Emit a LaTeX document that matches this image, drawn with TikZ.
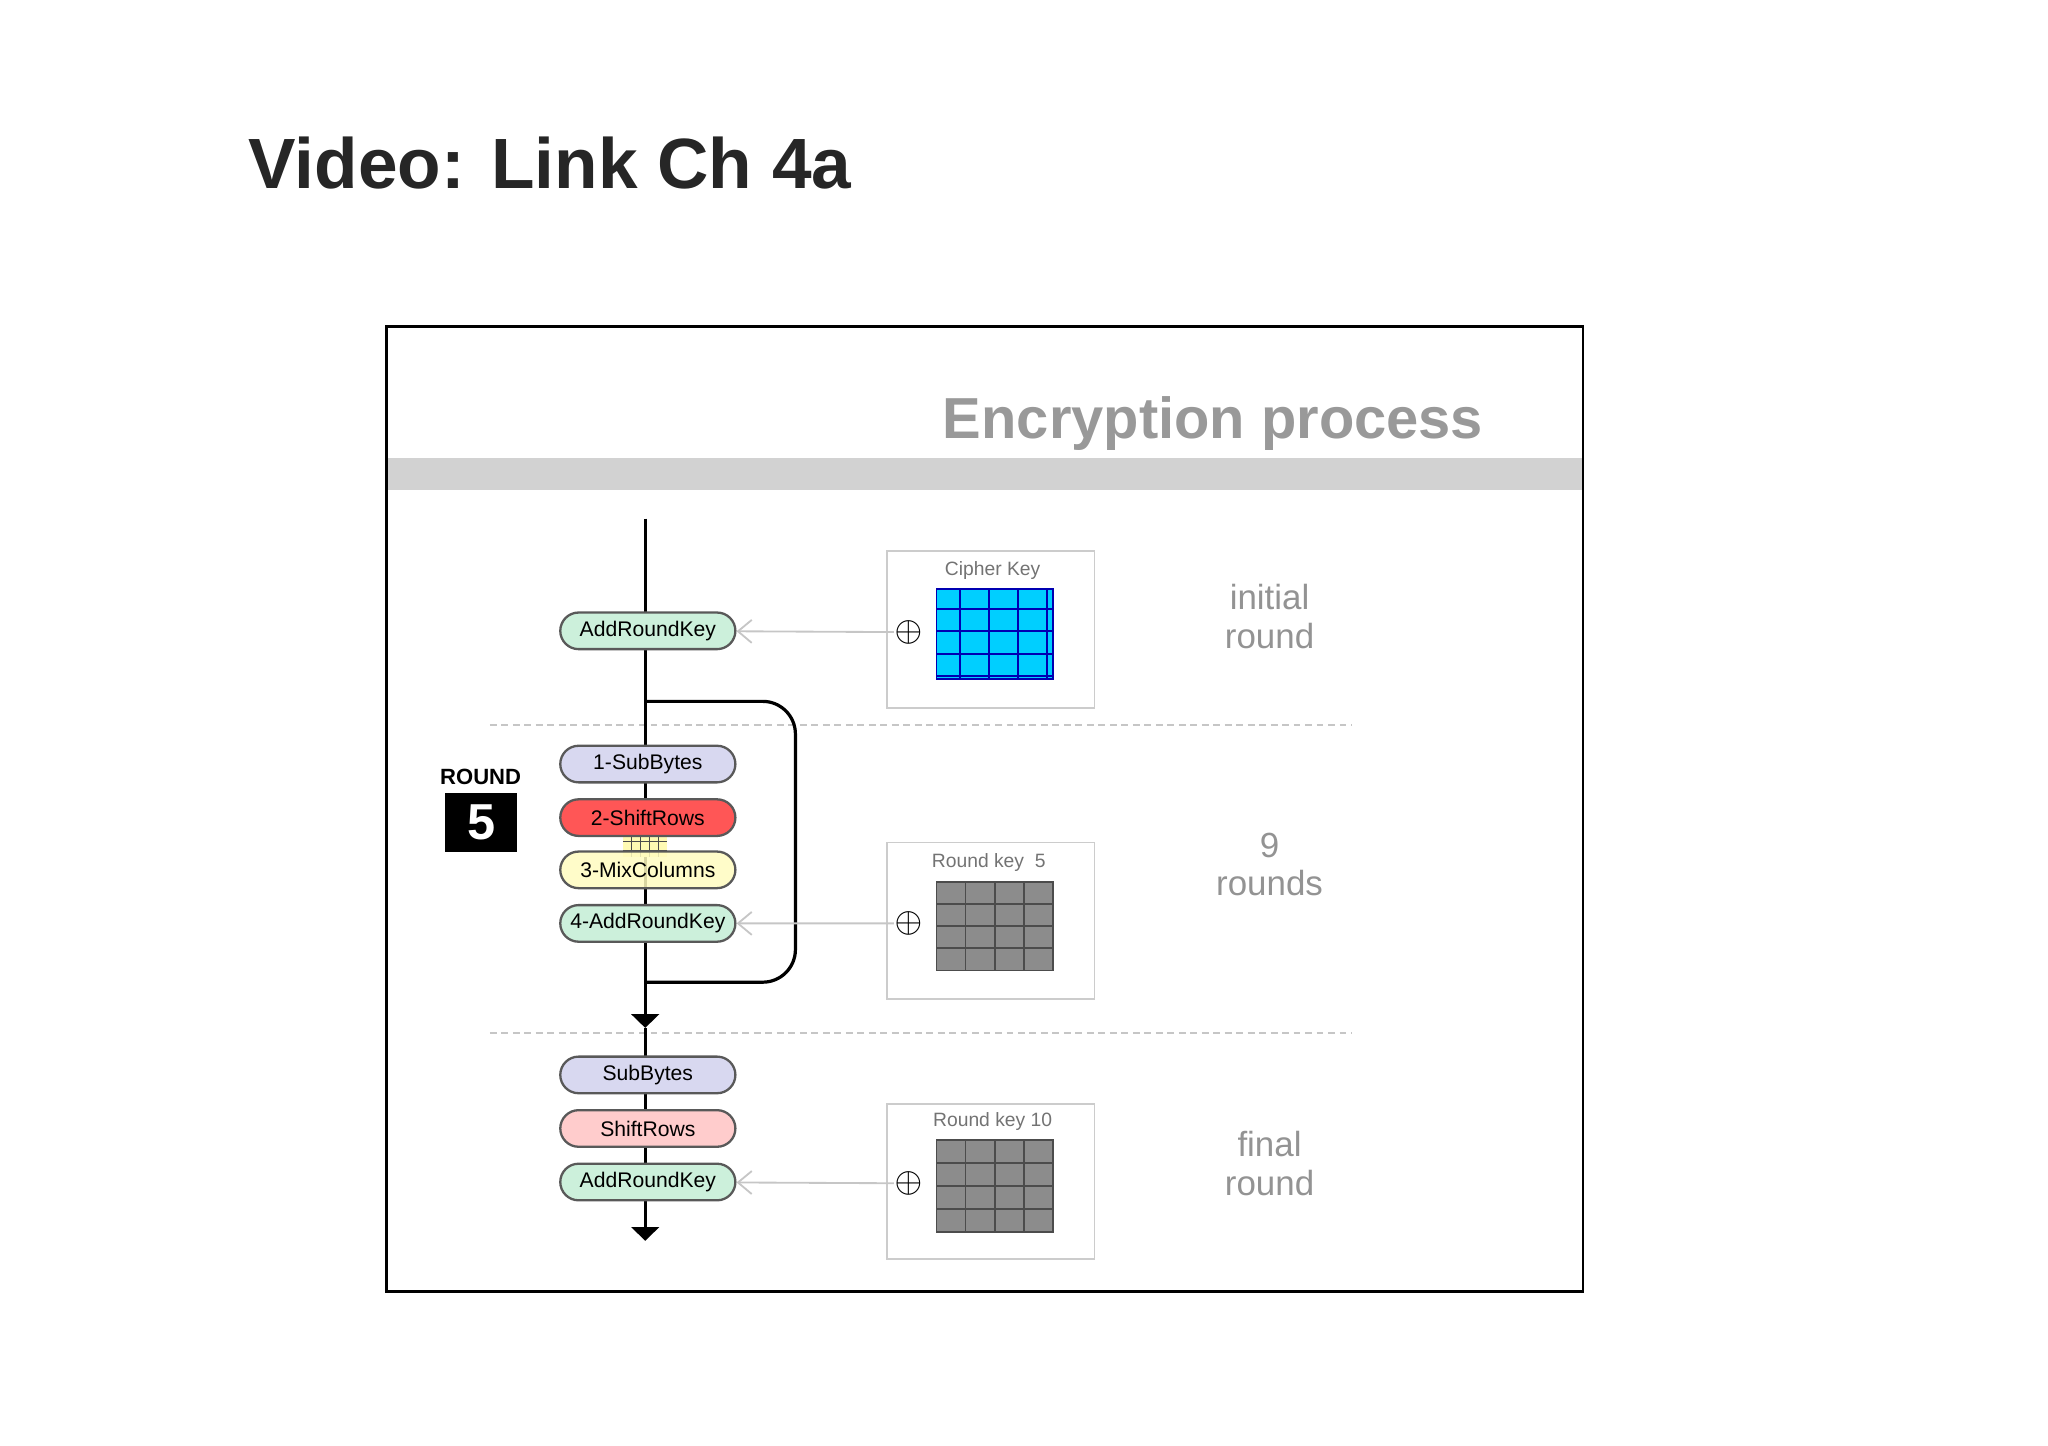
\documentclass[tikz,border=0pt]{standalone}
\usepackage{fontspec}
\setmainfont{Liberation Sans}
\usetikzlibrary{arrows.meta,shapes.misc}
\begin{document}
\begin{tikzpicture}[x=0.01cm,y=-0.01cm,
  pill/.style={rounded rectangle,draw=gray!70!black,line width=0.5pt,minimum width=1.34cm,minimum height=0.28cm,inner sep=0pt,font=\fontsize{4.6}{5}\selectfont},
  keybox/.style={draw=gray!40,line width=0.4pt},
  feed/.style={draw=gray!45,line width=0.4pt,-{Straight Barb[length=3pt,width=5pt]}},
  side/.style={align=center,text=gray!85,font=\fontsize{7.6}{8.4}\selectfont},
  keylbl/.style={text=gray!90!black,font=\fontsize{4.2}{5}\selectfont},
  xorsym/.style={inner sep=0pt,font=\fontsize{7}{7}\selectfont}]
\useasboundingbox (0,0) rectangle (1568,1107);
\node[anchor=west,font=\bfseries\fontsize{15.5}{18}\selectfont,text=black!85] (title) at (178,125) {Video: Link Ch 4a};
\draw[line width=0.6pt] (296,250) rectangle (1212,989);
\fill[gray!35] (297,351) rectangle (1211,375);
\node[anchor=base east,font=\bfseries\fontsize{12.6}{14}\selectfont,text=gray!80] (head) at (1148,336) {Encryption process};
% dashed separators
\draw[gray!45,dashed,dash pattern=on 1.5pt off 1pt,line width=0.4pt] (375,555) -- (1035,555);
\draw[gray!45,dashed,dash pattern=on 1.5pt off 1pt,line width=0.4pt] (375,791) -- (1035,791);
% main line and loop
\coordinate (top) at (494,397);
\coordinate (mid) at (494,787);
\coordinate (bot) at (494,950);
\draw[line width=0.7pt,-{Triangle[length=3pt,width=6pt]}] (top) -- (mid);
\draw[line width=0.7pt,-{Triangle[length=3pt,width=6pt]}] (mid) -- (bot);
\draw[line width=0.7pt,rounded corners=0.25cm] (494,537) -- (609,537) -- (609,752) -- (494,752);
% small mix grid
\fill[yellow!30] (477,638) rectangle (511,656);
\draw[gray!60!black,line width=0.25pt,step=0.07cm,xshift=0cm] (477,638) grid (511,656);
% pills
\node[pill,fill=green!40!teal!20] (ark0) at (496,483) {AddRoundKey};
\node[pill,fill=cyan!25!blue!15] (sb1) at (496,585) {1-SubBytes};
\node[pill,fill=red!55!pink] (sr1) at (496,626) {2-ShiftRows};
\node[pill,fill=yellow!25,fill opacity=0.85,text opacity=1] (mc1) at (496,666) {3-MixColumns};
\node[pill,fill=green!40!teal!20] (ark1) at (496,707) {4-AddRoundKey};
\node[pill,fill=cyan!25!blue!15] (sb2) at (496,823) {SubBytes};
\node[pill,fill=red!20] (sr2) at (496,864) {ShiftRows};
\node[pill,fill=green!40!teal!20] (ark2) at (496,905) {AddRoundKey};
% round label
\node[font=\bfseries\fontsize{4.8}{5}\selectfont] (roundlbl) at (368,595) {ROUND};
\node[fill=black,text=white,minimum width=0.55cm,minimum height=0.45cm,inner sep=0pt,font=\bfseries\fontsize{11}{12}\selectfont] (roundnum) at (368.5,629.5) {5};
% key boxes
\draw[keybox] (679,422) rectangle (838,542);
\draw[keybox] (679,645) rectangle (838,765);
\draw[keybox] (679,845) rectangle (838,964);
\fill[blue!10!cyan!90!blue] (717,451) rectangle (806,520);
\draw[blue!70!black,line width=0.4pt,xstep=0.2225cm,ystep=0.1725cm] (717,451) grid (806,520);
\draw[blue!70!black,line width=0.4pt] (717,451) rectangle (806,520);
\fill[gray!90] (717,675) rectangle (806,743);
\draw[black!70,line width=0.4pt,xstep=0.2225cm,ystep=0.17cm,shift={(717,675)}] (0,0) grid (89,68);
\draw[black!70,line width=0.4pt] (717,675) rectangle (806,743);
\fill[gray!90] (717,873) rectangle (806,943);
\draw[black!70,line width=0.4pt,xstep=0.2225cm,ystep=0.175cm,shift={(717,873)}] (0,0) grid (89,70);
\draw[black!70,line width=0.4pt] (717,873) rectangle (806,943);
\node[keylbl] (ck) at (760,437) {Cipher Key};
\node[keylbl] (rk5) at (757,660) {Round key\ \ 5};
\node[keylbl] (rk10) at (760,859) {Round key 10};
% xor and feeds
\node[xorsym] (x0) at (696,484) {$\oplus$};
\node[xorsym] (x1) at (696,707) {$\oplus$};
\node[xorsym] (x2) at (696,906) {$\oplus$};
\draw[feed] (x0) -- (ark0);
\draw[feed] (x1) -- (ark1);
\draw[feed] (x2) -- (ark2);
% side labels
\node[side] (s0) at (972,472) {initial\\round};
\node[side] (s1) at (972,662) {9\\rounds};
\node[side] (s2) at (972,891) {final\\round};
\end{tikzpicture}
\end{document}
